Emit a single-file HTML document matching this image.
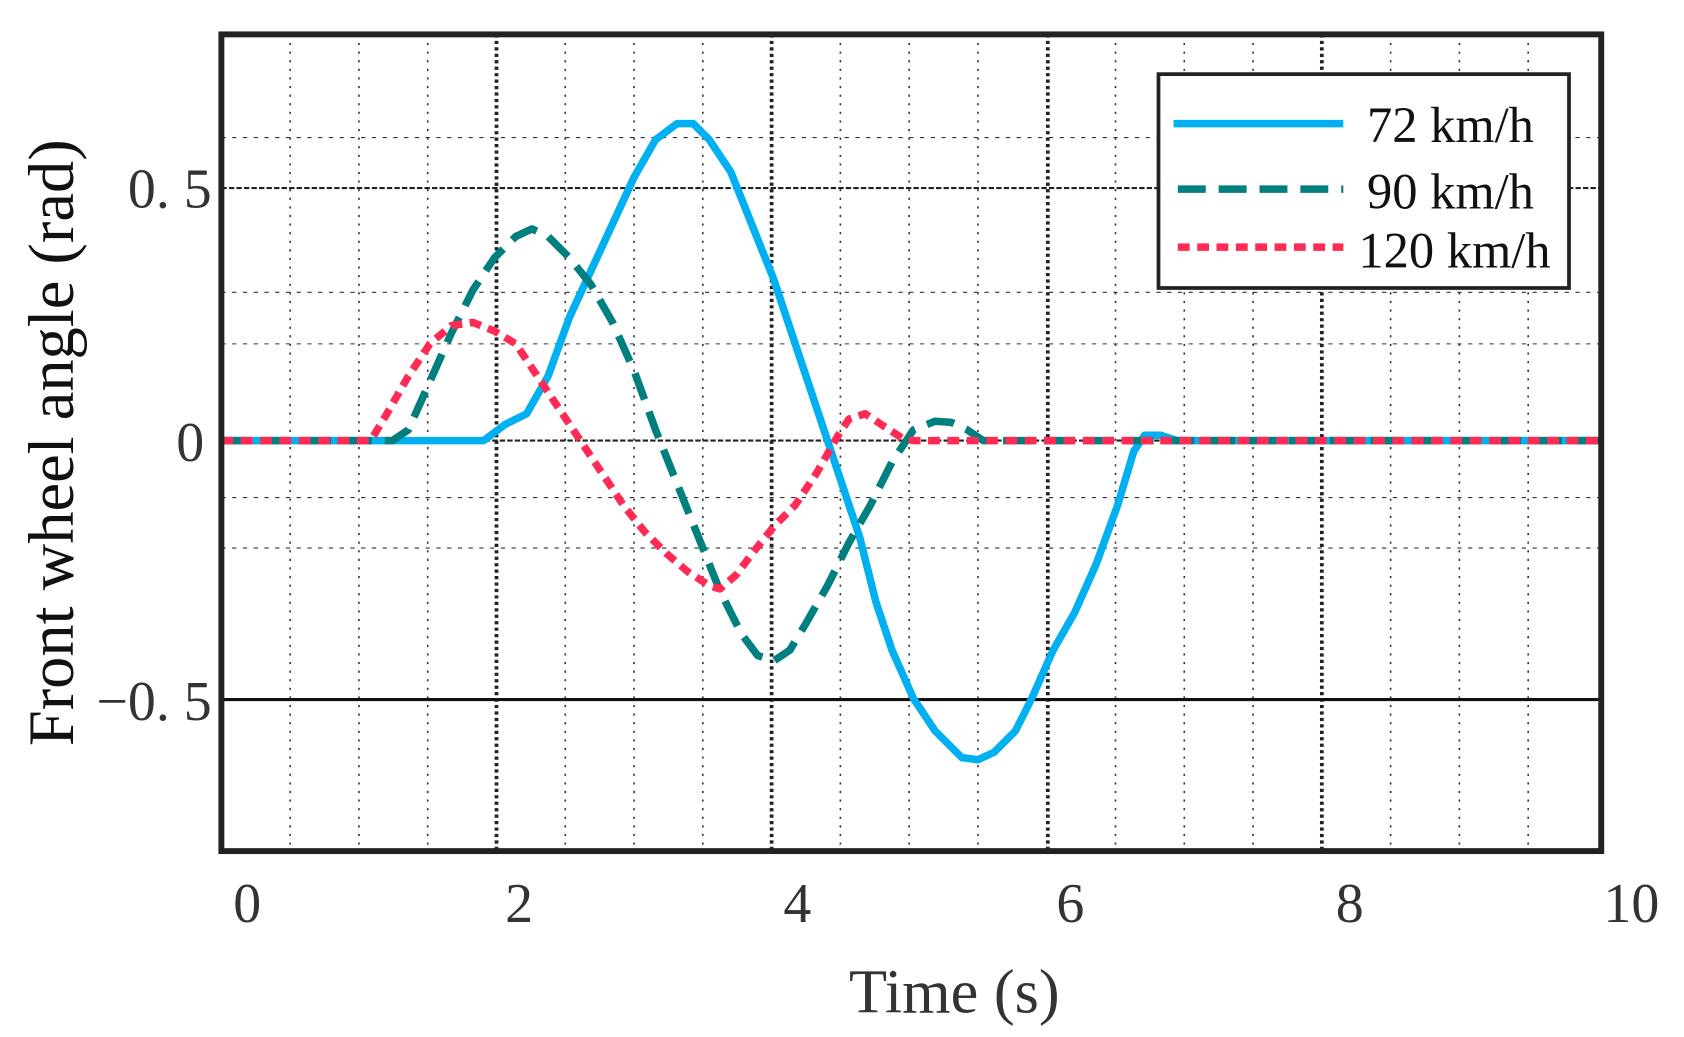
<!DOCTYPE html>
<html><head><meta charset="utf-8"><style>html,body{margin:0;padding:0;background:#fff}svg{display:block}</style></head>
<body>
<svg width="1684" height="1037" viewBox="0 0 1567 965" preserveAspectRatio="none" xmlns="http://www.w3.org/2000/svg" font-family="Liberation Serif, serif">
<rect width="1567" height="965" fill="#fff"/>
<g stroke="#333" stroke-width="1.5" stroke-dasharray="2,6">
<line x1="270" y1="32" x2="270" y2="792"/><line x1="334" y1="32" x2="334" y2="792"/><line x1="398" y1="32" x2="398" y2="792"/>
<line x1="526" y1="32" x2="526" y2="792"/><line x1="590" y1="32" x2="590" y2="792"/><line x1="654" y1="32" x2="654" y2="792"/>
<line x1="782" y1="32" x2="782" y2="792"/><line x1="846" y1="32" x2="846" y2="792"/><line x1="910" y1="32" x2="910" y2="792"/>
<line x1="1038" y1="32" x2="1038" y2="792"/><line x1="1102" y1="32" x2="1102" y2="792"/><line x1="1166" y1="32" x2="1166" y2="792"/>
<line x1="1294" y1="32" x2="1294" y2="792"/><line x1="1358" y1="32" x2="1358" y2="792"/><line x1="1422" y1="32" x2="1422" y2="792"/>
</g>
<g stroke="#333" stroke-width="1" stroke-dasharray="4,6">
<line x1="206" y1="128" x2="1490" y2="128"/><line x1="206" y1="272" x2="1490" y2="272"/><line x1="206" y1="320" x2="1490" y2="320"/>
<line x1="206" y1="463" x2="1490" y2="463"/><line x1="206" y1="510" x2="1490" y2="510"/>
</g>
<g stroke="#222" stroke-width="3.5" stroke-dasharray="3,3">
<line x1="462" y1="32" x2="462" y2="792"/><line x1="718" y1="32" x2="718" y2="792"/><line x1="975" y1="32" x2="975" y2="792"/><line x1="1230" y1="32" x2="1230" y2="792"/>
</g>
<g stroke="#222" stroke-width="2" stroke-dasharray="5,2">
<line x1="206" y1="175" x2="1490" y2="175"/><line x1="206" y1="410" x2="1490" y2="410"/>
</g>
<line x1="206" y1="651" x2="1490" y2="651" stroke="#111" stroke-width="3"/>
<g fill="none" stroke-width="7" stroke-linejoin="round">
<polyline stroke="#00B0F0" points="206,410 450,410 470,395 490,385 510,350 530,295 560,230 590,165 610,130 630,115 645,115 660,130 680,160 700,210 720,260 740,320 760,380 780,440 800,500 815,560 830,605 850,650 870,680 895,705 910,707 925,700 945,680 960,650 980,605 1000,570 1020,525 1040,470 1055,420 1065,405 1080,405 1095,410 1490,410"/>
<polyline stroke="#007F7F" stroke-dasharray="26,12" points="206,410 365,410 380,400 400,355 420,310 440,270 460,240 480,220 495,213 510,220 530,240 550,265 570,300 590,345 610,400 630,450 650,500 670,550 690,590 705,610 720,615 735,605 750,580 770,545 790,505 810,470 830,430 850,400 870,392 885,393 900,400 915,410 1490,410"/>
<polyline stroke="#FF2B55" stroke-dasharray="11,7" points="206,410 345,410 360,385 380,350 400,320 420,303 440,300 460,308 480,320 500,350 520,380 540,410 560,440 580,470 600,495 620,515 640,532 660,545 670,548 685,535 700,515 720,490 740,470 760,440 780,405 790,390 805,385 820,395 840,408 850,410 1490,410"/>
</g>
<rect x="206" y="32" width="1284" height="760" fill="none" stroke="#222" stroke-width="5.5"/>
<rect x="1078" y="69" width="382" height="199" fill="#fff" stroke="#222" stroke-width="3.5"/>
<line x1="1092" y1="115" x2="1250" y2="115" stroke="#00B0F0" stroke-width="7"/>
<line x1="1096" y1="176" x2="1250" y2="176" stroke="#007F7F" stroke-width="7" stroke-dasharray="26,12"/>
<line x1="1096" y1="230" x2="1250" y2="230" stroke="#FF2B55" stroke-width="7" stroke-dasharray="11,7"/>
<g font-size="47" fill="#111">
<text x="1272" y="132">72 km/h</text>
<text x="1272" y="194">90 km/h</text>
<text x="1264" y="249">120 km/h</text>
</g>
<g font-size="52" fill="#333" text-anchor="middle">
<text x="230" y="858">0</text><text x="483" y="858">2</text><text x="742" y="858">4</text><text x="996" y="858">6</text><text x="1256" y="858">8</text><text x="1518" y="858">10</text>
</g>
<g font-size="52" fill="#333" text-anchor="end">
<text x="197" y="193">0. 5</text><text x="190" y="429">0</text><text x="197" y="670">−0. 5</text>
</g>
<text x="888" y="942" font-size="58" fill="#333" text-anchor="middle">Time (s)</text>
<text transform="translate(68,412) rotate(-90)" font-size="60" fill="#111" text-anchor="middle">Front wheel angle (rad)</text>
</svg>
</body></html>
